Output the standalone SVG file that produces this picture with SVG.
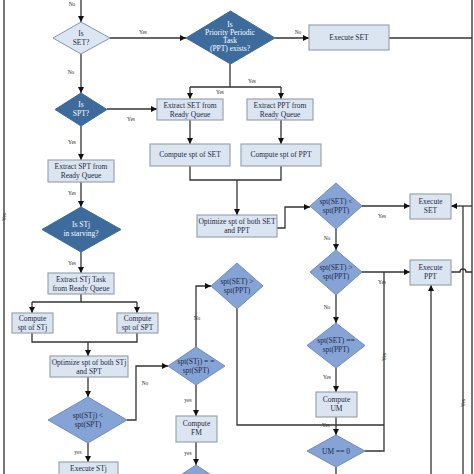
<svg xmlns="http://www.w3.org/2000/svg" width="474" height="474" viewBox="0 0 474 474">
<style>
.box{fill:#dbe5f1;stroke:#9aa4ae;stroke-width:1.2}
.dk{fill:#3d6b9b;stroke:#3d6b9b}
.md{fill:#86a3d6;stroke:#6f8cc0;stroke-width:1}
.lt{fill:#dce6f2;stroke:#7f95b5;stroke-width:1}
.t{font-family:"Liberation Serif",serif;font-size:7.5px;fill:#1f2a44;text-anchor:middle}
.tw{font-family:"Liberation Serif",serif;font-size:7.5px;fill:#ffffff;text-anchor:middle}
.lb{font-family:"Liberation Serif",serif;font-size:5.5px;fill:#333;text-anchor:middle}
.c{fill:none;stroke:#333;stroke-width:1.3}
.a{marker-end:url(#ah)}
.o{fill:none;stroke:#555;stroke-width:1.6}
</style>
<defs>
<marker id="ah" markerUnits="userSpaceOnUse" markerWidth="6" markerHeight="6" refX="6" refY="3" orient="auto">
<path d="M0,0 L6,3 L0,6 z" fill="#111"/>
</marker>
</defs>
<rect width="474" height="474" fill="#ffffff"/>
<g id="connectors">
<path class="o" d="M4,0 V474"/>
<path class="o" d="M472,0 V474"/>
<path class="c a" d="M81,0 V22"/>
<path class="c a" d="M110,38 H186"/>
<path class="c a" d="M275,38 H309"/>
<path class="c" d="M389,38 H472"/>
<path class="c" d="M230,64 V87 M190,87 H281"/>
<path class="c a" d="M190,87 V99"/>
<path class="c a" d="M281,87 V99"/>
<path class="c a" d="M81,54 V93"/>
<path class="c a" d="M107,109 H157"/>
<path class="c a" d="M190,120 V144"/>
<path class="c a" d="M281,120 V144"/>
<path class="c a" d="M81,126 V160"/>
<path class="c" d="M190,166 V180 H281 V166"/>
<path class="c a" d="M237,180 V215"/>
<path class="c a" d="M81,182 V207"/>
<path class="c a" d="M81,252 V273"/>
<path class="c" d="M81,294 V302 M32,302 H137"/>
<path class="c a" d="M32,302 V313"/>
<path class="c a" d="M137,302 V313"/>
<path class="c" d="M32,333 V342 H137 V333"/>
<path class="c a" d="M88,342 V356"/>
<path class="c a" d="M88,377 V397"/>
<path class="c a" d="M88,443 V462"/>
<path class="c a" d="M127,420 H136 V366 H168"/>
<path class="c a" d="M196,385 V416"/>
<path class="c a" d="M196,442 V465"/>
<path class="c a" d="M196,347 V286 H211"/>
<path class="c a" d="M277,228 H285 V207 H310"/>
<path class="c a" d="M362,206 H410"/>
<path class="c a" d="M336,229 V250"/>
<path class="c a" d="M362,272 H410"/>
<path class="c a" d="M336,295 V323"/>
<path class="c a" d="M336,368 V392"/>
<path class="c a" d="M336,417 V435"/>
<path class="c" d="M237,309 V425 H384"/>
<path class="c" d="M384,272 V451 H365"/>
<path class="c" d="M336,467 V474"/>
<path class="c a" d="M431,474 V285"/>
<path class="c a" d="M472,206 H451"/>
<path class="c" d="M463,206 V474"/>
<path class="c" d="M451,272 H460 A3,3 0 0 1 466,272 H472"/>
<text class="lb" x="72" y="6">No</text>
<text class="lb" x="143" y="34">Yes</text>
<text class="lb" x="298" y="34">No</text>
<text class="lb" x="252" y="83">Yes</text>
<text class="lb" x="220" y="94">Yes</text>
<text class="lb" x="71" y="74">No</text>
<text class="lb" x="131" y="121">Yes</text>
<text class="lb" x="72" y="144">Yes</text>
<text class="lb" x="72" y="195">Yes</text>
<text class="lb" x="72" y="265">Yes</text>
<text class="lb" x="78" y="454">yes</text>
<text class="lb" x="145" y="385">No</text>
<text class="lb" x="188" y="402">yes</text>
<text class="lb" x="188" y="455">yes</text>
<text class="lb" x="197" y="320">No</text>
<text class="lb" x="382" y="218">Yes</text>
<text class="lb" x="327" y="240">No</text>
<text class="lb" x="382" y="284">Yes</text>
<text class="lb" x="327" y="309">No</text>
<text class="lb" x="327" y="379">Yes</text>
<text class="lb" x="326" y="427" font-size="4.5">Yes</text>
<text class="lb" transform="translate(6,217) rotate(-90)">Yes</text>
<text class="lb" transform="translate(386,357) rotate(-90)">Yes</text>
<text class="lb" transform="translate(465,403) rotate(-90)">Yes</text>
</g>
<g id="is-set">
<polygon class="lt" points="81,22 110,38 81,54 53,38"/>
<text class="t" x="81" y="36">Is</text>
<text class="t" x="81" y="45">SET?</text>
</g>
<g id="is-ppt">
<polygon class="dk" points="230.5,11 275,38 230.5,64 186,38"/>
<text class="tw" x="230" y="27">Is</text>
<text class="tw" x="230" y="35">Priority Periodic</text>
<text class="tw" x="230" y="43">Task</text>
<text class="tw" x="230" y="51">(PPT) exists?</text>
</g>
<g id="execute-set-1">
<rect class="box" x="309" y="25" width="80" height="25"/>
<text class="t" x="349" y="40">Execute SET</text>
</g>
<g id="is-spt">
<polygon class="dk" points="81,93 107,109.5 81,126 55,109.5"/>
<text class="tw" x="81" y="107">Is</text>
<text class="tw" x="81" y="116">SPT?</text>
</g>
<g id="extract-set">
<rect class="box" x="157" y="99" width="66" height="21"/>
<text class="t" x="190" y="108">Extract SET from</text>
<text class="t" x="190" y="117">Ready Queue</text>
</g>
<g id="extract-ppt">
<rect class="box" x="247" y="99" width="66" height="21"/>
<text class="t" x="280" y="108">Extract PPT from</text>
<text class="t" x="280" y="117">Ready Queue</text>
</g>
<g id="compute-spt-set">
<rect class="box" x="150" y="144" width="80" height="22"/>
<text class="t" x="190" y="157">Compute spt of SET</text>
</g>
<g id="compute-spt-ppt">
<rect class="box" x="241" y="144" width="80" height="22"/>
<text class="t" x="281" y="157">Compute spt of PPT</text>
</g>
<g id="extract-spt">
<rect class="box" x="48" y="160" width="66" height="22"/>
<text class="t" x="81" y="169">Extract SPT from</text>
<text class="t" x="81" y="178">Ready Queue</text>
</g>
<g id="optimize-set-ppt">
<rect class="box" x="197" y="215" width="80" height="22"/>
<text class="t" x="237" y="224">Optimize spt of both SET</text>
<text class="t" x="237" y="233">and PPT</text>
</g>
<g id="is-stj-starving">
<polygon class="dk" points="81,207 121,229.5 81,252 42,229.5"/>
<text class="tw" x="81" y="227">Is STj</text>
<text class="tw" x="81" y="236">in starving?</text>
</g>
<g id="spt-set-lt">
<polygon class="md" points="336,183 362,206 336,229 310,206"/>
<text class="t" x="336" y="204">spt(SET) &lt;</text>
<text class="t" x="336" y="213">spt(PPT)</text>
</g>
<g id="execute-set-2">
<rect class="box" x="410" y="194" width="41" height="25"/>
<text class="t" x="430.5" y="204">Execute</text>
<text class="t" x="430.5" y="213">SET</text>
</g>
<g id="spt-set-gt">
<polygon class="md" points="336,250 362,272 336,295 310,272"/>
<text class="t" x="336" y="270">spt(SET) &gt;</text>
<text class="t" x="336" y="279">spt(PPT)</text>
</g>
<g id="execute-ppt">
<rect class="box" x="410" y="260" width="41" height="25"/>
<text class="t" x="430.5" y="270">Execute</text>
<text class="t" x="430.5" y="279">PPT</text>
</g>
<g id="extract-stj">
<rect class="box" x="48" y="273" width="66" height="21"/>
<text class="t" x="81" y="282">Extract STj Task</text>
<text class="t" x="81" y="291">from Ready Queue</text>
</g>
<g id="spt-set-gt-2">
<polygon class="md" points="237,263 263,286 237,309 211,286"/>
<text class="t" x="237" y="284">spt(SET) &gt;</text>
<text class="t" x="237" y="293">spt(PPT)</text>
</g>
<g id="compute-spt-stj">
<rect class="box" x="12" y="313" width="41" height="20"/>
<text class="t" x="32.5" y="321">Compute</text>
<text class="t" x="32.5" y="330">spt of STj</text>
</g>
<g id="compute-spt-spt">
<rect class="box" x="117" y="313" width="41" height="20"/>
<text class="t" x="137.5" y="321">Compute</text>
<text class="t" x="137.5" y="330">spt of SPT</text>
</g>
<g id="spt-set-eq">
<polygon class="md" points="336,323 365,345.5 336,368 307,345.5"/>
<text class="t" x="336" y="343">spt(SET) ==</text>
<text class="t" x="336" y="352">spt(PPT)</text>
</g>
<g id="optimize-stj-spt">
<rect class="box" x="50" y="356" width="78" height="21"/>
<text class="t" x="89" y="365">Optimize spt of both STj</text>
<text class="t" x="89" y="374">and SPT</text>
</g>
<g id="spt-stj-eq">
<polygon class="md" points="196,347 225,366 196,385 168,366"/>
<text class="t" x="196" y="364">spt(STj) = =</text>
<text class="t" x="196" y="373">spt(SPT)</text>
</g>
<g id="compute-um">
<rect class="box" x="316" y="392" width="41" height="25"/>
<text class="t" x="336.5" y="402">Compute</text>
<text class="t" x="336.5" y="411">UM</text>
</g>
<g id="spt-stj-lt">
<polygon class="md" points="88,397 127,420 88,443 48,420"/>
<text class="t" x="88" y="418">spt(STj) &lt;</text>
<text class="t" x="88" y="427">spt(SPT)</text>
</g>
<g id="compute-fm">
<rect class="box" x="176" y="416" width="41" height="26"/>
<text class="t" x="196.5" y="426">Compute</text>
<text class="t" x="196.5" y="435">FM</text>
</g>
<g id="um-zero">
<polygon class="md" points="336,435 365,451 336,467 307,451"/>
<text class="t" x="336" y="454">UM == 0</text>
</g>
<g id="fm-diamond">
<polygon class="md" points="196,465 222,482 196,499 170,482"/>
</g>
<g id="execute-stj">
<rect class="box" x="59" y="462" width="59" height="20"/>
<text class="t" x="88.5" y="471">Execute STj</text>
</g>
</svg>
